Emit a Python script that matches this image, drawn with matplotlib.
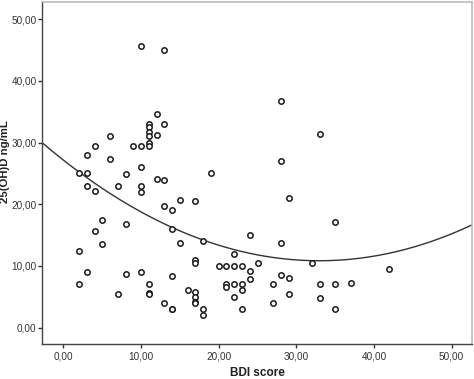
#!/usr/bin/env python3
import numpy as np
import matplotlib
matplotlib.use("Agg")
import matplotlib.pyplot as plt
from matplotlib.ticker import FuncFormatter

# ── data ─────────────────────────────────────────────────────────────────────
bdi = [2, 2, 2,
       3, 3, 3, 3,
       4, 4, 4,
       5, 5,
       6, 6,
       7, 7,
       8, 8, 8,
       9,
       10, 10, 10, 10, 10, 10,
       11, 11, 11, 11, 11, 11, 11, 11, 11,
       12, 12, 12,
       13, 13, 13, 13, 13,
       14, 14, 14, 14, 14,
       15, 15,
       16,
       17, 17, 17, 17, 17, 17, 17,
       18, 18, 18,
       19,
       20,
       21, 21, 21,
       22, 22, 22, 22,
       23, 23, 23, 23,
       24, 24, 24,
       25,
       27, 27,
       28, 28, 28, 28,
       29, 29, 29,
       32,
       33, 33, 33,
       35, 35, 35,
       37,
       42]
vitd = [25.0, 12.4, 7.0,
        28.0, 25.0, 23.0, 9.1,
        29.4, 22.1, 15.7,
        17.4, 13.6,
        31.0, 27.3,
        23.0, 5.5,
        24.9, 16.8, 8.7,
        29.5,
        45.7, 29.5, 26.0, 23.0, 22.0, 9.0,
        33.0, 32.6, 31.8, 31.0, 30.0, 29.5, 7.0, 5.6, 5.4,
        34.7, 31.3, 24.1,
        45.0, 33.0, 24.0, 19.8, 4.0,
        19.0, 16.0, 8.4, 3.1, 3.1,
        20.7, 13.7,
        6.1,
        20.5, 11.0, 10.4, 5.7, 5.0, 4.2, 4.0,
        14.1, 3.1, 2.1,
        25.0,
        10.0,
        10.0, 7.1, 6.6,
        12.0, 10.0, 7.0, 5.0,
        10.0, 7.0, 6.1, 3.1,
        15.0, 9.2, 7.9,
        10.4,
        7.0, 4.0,
        36.8, 27.0, 13.7, 8.5,
        21.0, 8.1, 5.5,
        10.4,
        31.4, 7.0, 4.8,
        17.1, 7.0, 3.1,
        7.25,
        9.5]
# quadratic fit line as drawn in the figure (constant, linear, squared term)
fit_coef = [27.15, -0.9894, 0.01501]
x_ticks = [0, 10, 20, 30, 40, 50]
y_ticks = [0, 10, 20, 30, 40, 50]
# ──────────────────────────────────────────────────────────────────────────────

plt.rcParams['font.family'] = ['Liberation Sans', 'DejaVu Sans']

def comma(v, pos):
    return f"{v:.2f}".replace(".", ",")

def main():
    fig = plt.figure(figsize=(4.74, 3.79), dpi=100)
    ax = fig.add_axes([0.0886, 0.0916, 0.9082, 0.9031])

    ax.scatter(bdi, vitd, s=15, facecolors="white", edgecolors="#1a1a1a",
               linewidths=1.1, zorder=3)

    xlim = (-2.77, 52.7)
    xs = np.linspace(xlim[0], xlim[1], 300)
    ax.plot(xs, np.polyval(fit_coef[::-1], xs), color="#333333", lw=1.0,
            zorder=2)

    ax.set_xlim(*xlim)
    ax.set_ylim(-2.7, 52.8)
    ax.set_xticks(x_ticks)
    ax.set_yticks(y_ticks)
    ax.xaxis.set_major_formatter(FuncFormatter(comma))
    ax.yaxis.set_major_formatter(FuncFormatter(comma))
    ax.tick_params(direction="out", length=3, width=1, color="#333333",
                   labelsize=7.2, labelcolor="#333333", pad=0.8)
    ax.tick_params(axis="x", pad=2.5)

    for side in ("left", "bottom"):
        ax.spines[side].set_color("#444444")
        ax.spines[side].set_linewidth(1.0)
    for side in ("top", "right"):
        ax.spines[side].set_color("#bbbbbb")
        ax.spines[side].set_linewidth(1.2)

    ax.set_xlabel("BDI score", fontsize=8.5, fontweight="bold",
                  color="#222222")
    ax.set_ylabel("25(OH)D ng/mL", fontsize=8.2, fontweight="bold",
                  color="#222222")
    ax.xaxis.set_label_coords(0.5, -0.084)
    ax.yaxis.set_label_coords(-0.087, 0.533)
    ax.xaxis.label.set_va("center")
    ax.yaxis.label.set_va("center")

    fig.savefig("out.png", dpi=100)

if __name__ == "__main__":
    main()
